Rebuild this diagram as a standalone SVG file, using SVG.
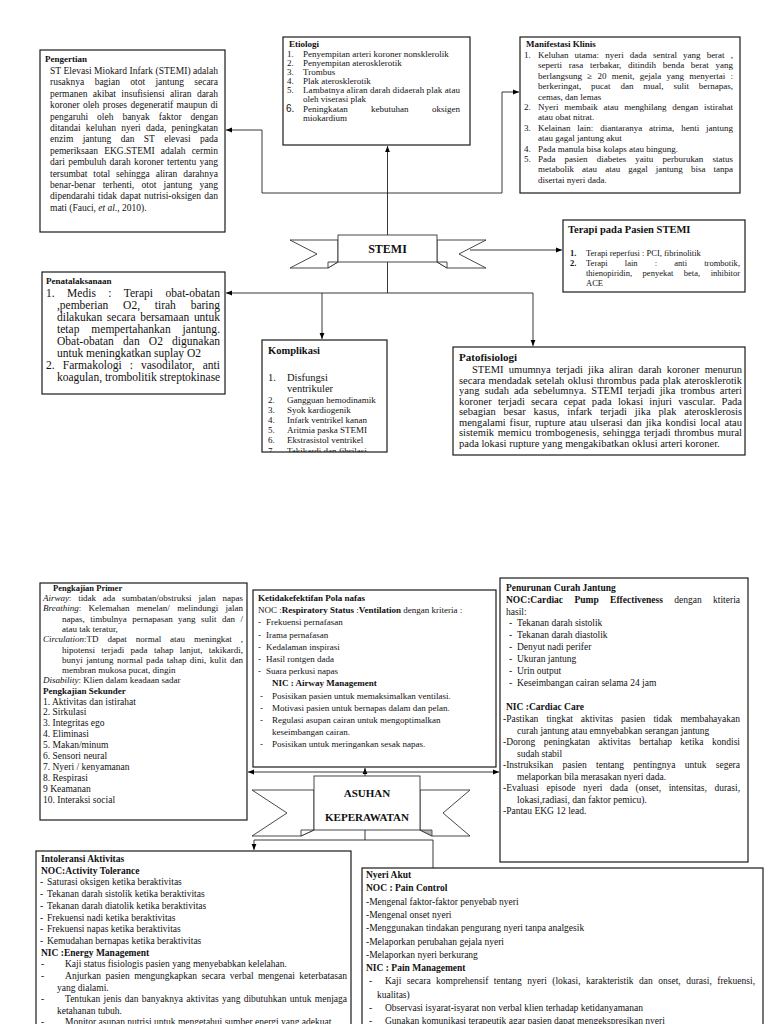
<svg xmlns="http://www.w3.org/2000/svg" width="768" height="1024" viewBox="0 0 768 1024">
<defs>
<marker id="ah" markerUnits="userSpaceOnUse" markerWidth="6" markerHeight="6" viewBox="0 0 10 10" refX="10" refY="5" orient="auto-start-reverse"><path d="M0,1 L10,5 L0,9 z" fill="#000"/></marker>
<clipPath id="clipKomp"><rect x="262" y="340" width="125" height="112"/></clipPath>
</defs>
<style>
.box{fill:#fff;stroke:#1a1a1a;stroke-width:1.2}
.t{font-family:"Liberation Serif","Times New Roman",serif;fill:#111}
.b{font-weight:bold}
.i{font-style:italic}
.sans{font-family:"Liberation Sans",Arial,sans-serif}
.conn{fill:none;stroke:#222;stroke-width:0.9}
.rib{fill:#fff;stroke:#333;stroke-width:0.9}
.fold{fill:#b3b3b3;stroke:#333;stroke-width:0.8}
.mid{text-anchor:middle}
</style>
<rect width="768" height="1024" fill="#fff"/>

<g id="connectors">
<path class="conn" d="M387.5,235 V146" marker-end="url(#ah)"/>
<path class="conn" d="M387.5,193 H262 V130 H226" marker-end="url(#ah)"/>
<path class="conn" d="M387.5,193 H502 V92 H519" marker-end="url(#ah)"/>
<path class="conn" d="M470,250 H562" marker-end="url(#ah)"/>
<path class="conn" d="M387.5,262 V293"/>
<path class="conn" d="M533,293 H226" marker-end="url(#ah)"/>
<path class="conn" d="M322,293 V339" marker-end="url(#ah)"/>
<path class="conn" d="M533,293 V346" marker-end="url(#ah)"/>
<path class="conn" d="M365,776 V768" marker-end="url(#ah)"/>
<path class="conn" d="M365,772 H248" marker-end="url(#ah)"/>
<path class="conn" d="M365,772 H499" marker-end="url(#ah)"/>
<path class="conn" d="M365,830 V840 H254 V850" marker-end="url(#ah)"/>
<path class="conn" d="M365,840 H433 V868"/>
</g>

<g id="pengertian">
<rect class="box" x="40" y="50" width="185" height="182"/>
<text class="t b" font-size="9" x="45" y="62">Pengertian</text>
<g class="t" font-size="9.5">
<text x="50" y="74" textLength="168" lengthAdjust="spacing">ST Elevasi Miokard Infark (STEMI) adalah</text>
<text x="50" y="85.4" word-spacing="8" textLength="168" lengthAdjust="spacing">rusaknya bagian otot jantung secara</text>
<text x="50" y="96.8" word-spacing="3" textLength="168" lengthAdjust="spacing">permanen akibat insufisiensi aliran darah</text>
<text x="50" y="108.2" word-spacing="1" textLength="168" lengthAdjust="spacing">koroner oleh proses degeneratif maupun di</text>
<text x="50" y="119.6" word-spacing="6.6" textLength="168" lengthAdjust="spacing">pengaruhi oleh banyak faktor dengan</text>
<text x="50" y="131" word-spacing="2.9" textLength="168" lengthAdjust="spacing">ditandai keluhan nyeri dada, peningkatan</text>
<text x="50" y="142.4" word-spacing="7" textLength="168" lengthAdjust="spacing">enzim jantung dan ST elevasi pada</text>
<text x="50" y="153.8" word-spacing="3.8" textLength="168" lengthAdjust="spacing">pemeriksaan EKG.STEMI adalah cermin</text>
<text x="50" y="165.2" word-spacing="1" textLength="168" lengthAdjust="spacing">dari pembuluh darah koroner tertentu yang</text>
<text x="50" y="176.6" word-spacing="3.5" textLength="168" lengthAdjust="spacing">tersumbat total sehingga aliran darahnya</text>
<text x="50" y="188" word-spacing="4.9" textLength="168" lengthAdjust="spacing">benar-benar terhenti, otot jantung yang</text>
<text x="50" y="199.4" word-spacing="0.8" textLength="168" lengthAdjust="spacing">dipendarahi tidak dapat nutrisi-oksigen dan</text>
<text x="50" y="210.8">mati (Fauci, <tspan class="i">et al.</tspan>, 2010).</text>
</g>
</g>

<g id="etiologi">
<rect class="box" x="283" y="37" width="187" height="108"/>
<text class="t b" font-size="9" x="289" y="47">Etiologi</text>
<g class="t" font-size="9">
<text x="287" y="57">1.</text><text x="303" y="57">Penyempitan arteri koroner nonsklerolik</text>
<text x="287" y="66">2.</text><text x="303" y="66">Penyempitan aterosklerotik</text>
<text x="287" y="75">3.</text><text x="303" y="75">Trombus</text>
<text x="287" y="84">4.</text><text x="303" y="84">Plak aterosklerotik</text>
<text x="287" y="93">5.</text><text x="303" y="93" textLength="157" lengthAdjust="spacing">Lambatnya aliran darah didaerah plak atau</text>
<text x="303" y="102">oleh viserasi plak</text>
<text class="sans" font-size="10" x="286" y="112">6.</text><text x="303" y="112" word-spacing="21" textLength="157" lengthAdjust="spacing">Peningkatan kebutuhan oksigen</text>
<text x="303" y="121">miokardium</text>
</g>
</g>

<g id="manifestasi">
<rect class="box" x="520" y="37" width="220" height="156"/>
<text class="t b" font-size="9" x="526" y="47">Manifestasi Klinis</text>
<g class="t" font-size="9">
<text x="524" y="58">1.</text>
<text x="538" y="58" word-spacing="3.9" textLength="195" lengthAdjust="spacing">Keluhan utama: nyeri dada sentral yang berat ,</text>
<text x="538" y="68.4" word-spacing="4.4" textLength="195" lengthAdjust="spacing">seperti rasa terbakar, ditindih benda berat yang</text>
<text x="538" y="78.8" word-spacing="3" textLength="195" lengthAdjust="spacing">berlangsung ≥ 20 menit, gejala yang menyertai :</text>
<text x="538" y="89.2" word-spacing="7.6" textLength="195" lengthAdjust="spacing">berkeringat, pucat dan mual, sulit bernapas,</text>
<text x="538" y="99.6">cemas, dan lemas</text>
<text x="524" y="110">2.</text>
<text x="538" y="110" word-spacing="3.5" textLength="195" lengthAdjust="spacing">Nyeri membaik atau menghilang dengan istirahat</text>
<text x="538" y="120.4">atau obat nitrat.</text>
<text x="524" y="130.8">3.</text>
<text x="538" y="130.8" word-spacing="4.6" textLength="195" lengthAdjust="spacing">Kelainan lain: diantaranya atrima, henti jantung</text>
<text x="538" y="141.2">atau gagal jantung akut</text>
<text x="524" y="151.6">4.</text>
<text x="538" y="151.6">Pada manula bisa kolaps atau bingung.</text>
<text x="524" y="162">5.</text>
<text x="538" y="162" word-spacing="6.9" textLength="195" lengthAdjust="spacing">Pada pasien diabetes yaitu perburukan status</text>
<text x="538" y="172.4" word-spacing="5.8" textLength="195" lengthAdjust="spacing">metabolik atau atau gagal jantung bisa tanpa</text>
<text x="538" y="182.8">disertai nyeri dada.</text>
</g>
</g>

<g id="stemi">
<polygon class="rib" points="338,240 290,240 317,254 290,268 328,268 338,262"/>
<polygon class="rib" points="328,262 338,262 328,268"/>
<polygon class="rib" points="437,240 486,240 459,254 486,268 447,268 437,262"/>
<polygon class="rib" points="447,262 437,262 447,268"/>
<rect class="rib" x="338" y="235" width="99" height="27"/>
<text class="t b mid" font-size="12" x="387.5" y="253">STEMI</text>
</g>

<g id="terapi">
<rect class="box" x="563" y="220" width="182" height="72"/>
<text class="t b" font-size="10.5" x="568" y="233">Terapi pada Pasien STEMI</text>
<g class="t" font-size="8.5">
<text class="b" x="570" y="256">1.</text><text x="586" y="256">Terapi reperfusi : PCI, fibrinolitik</text>
<text class="b" x="570" y="266">2.</text><text x="586" y="266" word-spacing="15" textLength="154" lengthAdjust="spacing">Terapi lain : anti trombotik,</text>
<text x="586" y="276" word-spacing="8.4" textLength="154" lengthAdjust="spacing">thienopiridin, penyekat beta, inhibitor</text>
<text x="586" y="286">ACE</text>
</g>
</g>

<g id="penatalaksanaan">
<rect class="box" x="42" y="272" width="183" height="122"/>
<text class="t b" font-size="9" x="46" y="284">Penatalaksanaan</text>
<g class="t" font-size="11.5">
<text x="46" y="297" word-spacing="9.5" textLength="174" lengthAdjust="spacing">1. Medis : Terapi obat-obatan</text>
<text x="57" y="309" word-spacing="12" textLength="163" lengthAdjust="spacing">,pemberian O2, tirah baring</text>
<text x="57" y="321" word-spacing="1.8" textLength="163" lengthAdjust="spacing">dilakukan secara bersamaan untuk</text>
<text x="57" y="333" word-spacing="9" textLength="163" lengthAdjust="spacing">tetap mempertahankan jantung.</text>
<text x="57" y="345" word-spacing="6.3" textLength="163" lengthAdjust="spacing">Obat-obatan dan O2 digunakan</text>
<text x="57" y="357">untuk meningkatkan suplay O2</text>
<text x="46" y="369" word-spacing="5.2" textLength="174" lengthAdjust="spacing">2. Farmakologi : vasodilator, anti</text>
<text x="57" y="381">koagulan, trombolitik streptokinase</text>
</g>
</g>

<g id="komplikasi">
<rect class="box" x="262" y="340" width="125" height="112"/>
<g class="t" clip-path="url(#clipKomp)">
<text class="b" font-size="10.5" x="268" y="354">Komplikasi</text>
<text font-size="10.5" x="268" y="381">1.</text><text font-size="10.5" x="287" y="381">Disfungsi</text>
<text font-size="10.5" x="287" y="392">ventrikuler</text>
<g font-size="9">
<text x="268" y="403">2.</text><text x="287" y="403">Gangguan hemodinamik</text>
<text x="268" y="413">3.</text><text x="287" y="413">Syok kardiogenik</text>
<text x="268" y="423">4.</text><text x="287" y="423">Infark ventrikel kanan</text>
<text x="268" y="433">5.</text><text x="287" y="433">Aritmia paska STEMI</text>
<text x="268" y="443">6.</text><text x="287" y="443">Ekstrasistol ventrikel</text>
<text x="268" y="453.5">7</text><text x="287" y="453.5">Takikardi dan fibrilasi</text>
</g>
</g>
</g>

<g id="patofisiologi">
<rect class="box" x="453" y="347" width="292" height="108"/>
<text class="t b" font-size="11" x="459" y="361">Patofisiologi</text>
<g class="t" font-size="10.5">
<text x="472" y="373" word-spacing="2.6" textLength="270" lengthAdjust="spacing">STEMI umumnya terjadi jika aliran darah koroner menurun</text>
<text x="459" y="383.5" word-spacing="0.7" textLength="283" lengthAdjust="spacing">secara mendadak setelah oklusi thrombus pada plak aterosklerotik</text>
<text x="459" y="394" word-spacing="2.4" textLength="283" lengthAdjust="spacing">yang sudah ada sebelumnya. STEMI terjadi jika trombus arteri</text>
<text x="459" y="404.5" word-spacing="3.5" textLength="283" lengthAdjust="spacing">koroner terjadi secara cepat pada lokasi injuri vascular. Pada</text>
<text x="459" y="415" word-spacing="5.2" textLength="283" lengthAdjust="spacing">sebagian besar kasus, infark terjadi jika plak aterosklerosis</text>
<text x="459" y="425.5" word-spacing="1.2" textLength="283" lengthAdjust="spacing">mengalami fisur, rupture atau ulserasi dan jika kondisi local atau</text>
<text x="459" y="436" word-spacing="1" textLength="283" lengthAdjust="spacing">sistemik memicu trombogenesis, sehingga terjadi thrombus mural</text>
<text x="459" y="446.5">pada lokasi rupture yang mengakibatkan oklusi arteri koroner.</text>
</g>
</g>

<g id="pengkajian">
<rect class="box" x="40" y="583" width="207" height="237"/>
<g class="t" font-size="9">
<text class="b" font-size="8.5" x="53" y="591">Pengkajian Primer</text>
<text x="43" y="601" word-spacing="4.6" textLength="200" lengthAdjust="spacing"><tspan class="i">Airway</tspan>: tidak ada sumbatan/obstruksi jalan napas</text>
<text x="43" y="611.3" word-spacing="5.1" textLength="200" lengthAdjust="spacing"><tspan class="i">Breathing</tspan>: Kelemahan menelan/ melindungi jalan</text>
<text x="62" y="621.6" word-spacing="3.2" textLength="181" lengthAdjust="spacing">napas, timbulnya pernapasan yang sulit dan /</text>
<text x="62" y="631.9">atau tak teratur,</text>
<text x="43" y="642.2" word-spacing="6.7" textLength="200" lengthAdjust="spacing"><tspan class="i">Circulation</tspan>:TD dapat normal atau meningkat ,</text>
<text x="62" y="652.5" word-spacing="4" textLength="181" lengthAdjust="spacing">hipotensi terjadi pada tahap lanjut, takikardi,</text>
<text x="62" y="662.8" word-spacing="1" textLength="181" lengthAdjust="spacing">bunyi jantung normal pada tahap dini, kulit dan</text>
<text x="62" y="673.1">membran mukosa pucat, dingin</text>
<text x="43" y="683.4"><tspan class="i">Disability</tspan>: Klien dalam keadaan  sadar</text>
<text class="b" x="43" y="693.7">Pengkajian Sekunder</text>
</g>
<g class="t" font-size="9.5">
<text x="43" y="704.5">1. Aktivitas dan istirahat</text>
<text x="43" y="715.4">2. Sirkulasi</text>
<text x="43" y="726.3">3. Integritas ego</text>
<text x="43" y="737.2">4. Eliminasi</text>
<text x="43" y="748.1">5. Makan/minum</text>
<text x="43" y="759">6. Sensori neural</text>
<text x="43" y="769.9">7. Nyeri / kenyamanan</text>
<text x="43" y="780.8">8. Respirasi</text>
<text x="43" y="791.7">9 Keamanan</text>
<text x="43" y="802.6">10. Interaksi social</text>
</g>
</g>

<g id="ketidakefektifan">
<rect class="box" x="253" y="590" width="243" height="177"/>
<g class="t" font-size="9">
<text class="b" x="258" y="601">Ketidakefektifan Pola nafas</text>
<text x="258" y="613.2">NOC :<tspan class="b">Respiratory Status</tspan> :<tspan class="b">Ventilation</tspan> dengan kriteria :</text>
<text x="258" y="625.4">-</text><text x="266" y="625.4">Frekuensi pernafasan</text>
<text x="258" y="637.6">-</text><text x="266" y="637.6">Irama pernafasan</text>
<text x="258" y="649.8">-</text><text x="266" y="649.8">Kedalaman inspirasi</text>
<text x="258" y="662">-</text><text x="266" y="662">Hasil rontgen dada</text>
<text x="258" y="674.2">-</text><text x="266" y="674.2">Suara perkusi napas</text>
<text class="b" x="272" y="686.4">NIC : Airway Management</text>
<text x="260" y="698.6">-</text><text x="272" y="698.6">Posisikan pasien untuk memaksimalkan ventilasi.</text>
<text x="260" y="710.8">-</text><text x="272" y="710.8">Motivasi pasien untuk bernapas dalam  dan pelan.</text>
<text x="260" y="723">-</text><text x="272" y="723">Regulasi asupan cairan untuk mengoptimalkan</text>
<text x="272" y="735.2">keseimbangan cairan.</text>
<text x="260" y="747.4">-</text><text x="272" y="747.4">Posisikan untuk meringankan sesak napas.</text>
</g>
</g>

<g id="penurunan">
<rect class="box" x="500" y="578" width="248" height="284"/>
<g class="t" font-size="9.5">
<text class="b" x="506" y="591">Penurunan Curah Jantung</text>
<text x="506" y="603" word-spacing="9" textLength="234" lengthAdjust="spacing"><tspan class="b">NOC:Cardiac Pump Effectiveness</tspan> dengan ktiteria</text>
<text x="506" y="614.5">hasil:</text>
<text x="509" y="626">-</text><text x="517" y="626">Tekanan darah sistolik</text>
<text x="509" y="638">-</text><text x="517" y="638">Tekanan darah diastolik</text>
<text x="509" y="650">-</text><text x="517" y="650">Denyut nadi perifer</text>
<text x="509" y="662">-</text><text x="517" y="662">Ukuran jantung</text>
<text x="509" y="674">-</text><text x="517" y="674">Urin output</text>
<text x="509" y="686">-</text><text x="517" y="686">Keseimbangan cairan selama 24 jam</text>
<text class="b" x="506" y="710">NIC :Cardiac Care</text>
<text x="503" y="722" word-spacing="5.7" textLength="237" lengthAdjust="spacing">-Pastikan tingkat aktivitas pasien tidak membahayakan</text>
<text x="517" y="733.5">curah jantung atau emnyebabkan serangan jantung</text>
<text x="503" y="745" word-spacing="6.1" textLength="237" lengthAdjust="spacing">-Dorong peningkatan aktivitas bertahap ketika kondisi</text>
<text x="517" y="756.5">sudah stabil</text>
<text x="503" y="768" word-spacing="6.9" textLength="237" lengthAdjust="spacing">-Instruksikan pasien tentang pentingnya untuk segera</text>
<text x="517" y="779.5">melaporkan bila merasakan nyeri dada.</text>
<text x="503" y="791" word-spacing="5.2" textLength="237" lengthAdjust="spacing">-Evaluasi episode nyeri dada (onset, intensitas, durasi,</text>
<text x="517" y="802.5">lokasi,radiasi, dan faktor pemicu).</text>
<text x="503" y="814">-Pantau EKG 12 lead.</text>
</g>
</g>

<g id="asuhan">
<polygon class="rib" points="314,790 252,790 287,813 252,836 301,836 314,830"/>
<polygon class="rib" points="314,830 301,830 301,836"/>
<polygon class="rib" points="420,790 470,790 443,813 470,836 432,836 420,830"/>
<polygon class="fold" points="420,830 432,830 432,836"/>
<rect class="rib" x="314" y="776" width="106" height="54"/>
<text class="t b mid" font-size="11" x="367" y="797">ASUHAN</text>
<text class="t b mid" font-size="11" x="367" y="821">KEPERAWATAN</text>
</g>

<g id="intoleransi">
<rect class="box" x="36" y="851" width="315" height="185"/>
<g class="t" font-size="9.5">
<text class="b" x="41" y="862">Intoleransi Aktivitas</text>
<text class="b" x="41" y="873.7">NOC:Activity Tolerance</text>
<text x="40" y="885.4">-</text><text x="47" y="885.4">Saturasi oksigen ketika beraktivitas</text>
<text x="40" y="897.1">-</text><text x="47" y="897.1">Tekanan darah sistolik ketika beraktivitas</text>
<text x="40" y="908.8">-</text><text x="47" y="908.8">Tekanan darah diatolik ketika beraktivitas</text>
<text x="40" y="920.5">-</text><text x="47" y="920.5">Frekuensi nadi ketika beraktivitas</text>
<text x="40" y="932.2">-</text><text x="47" y="932.2">Frekuensi napas ketika beraktivitas</text>
<text x="40" y="943.9">-</text><text x="47" y="943.9">Kemudahan bernapas ketika beraktivitas</text>
<text class="b" x="41" y="955.6">NIC :Energy Management</text>
<text x="41" y="967.3">-</text><text x="65" y="967.3">Kaji status fisiologis pasien yang menyebabkan kelelahan.</text>
<text x="41" y="979">-</text><text x="65" y="979" word-spacing="2" textLength="282" lengthAdjust="spacing">Anjurkan pasien mengungkapkan secara verbal mengenai keterbatasan</text>
<text x="57" y="990.7">yang dialami.</text>
<text x="41" y="1002.4">-</text><text x="65" y="1002.4" word-spacing="0.9" textLength="282" lengthAdjust="spacing">Tentukan jenis dan banyaknya aktivitas yang dibutuhkan untuk menjaga</text>
<text x="57" y="1014.1">ketahanan tubuh.</text>
<text x="41" y="1025">-</text><text x="65" y="1025">Monitor asupan nutrisi untuk mengetahui sumber energi yang adekuat</text>
</g>
</g>

<g id="nyeri">
<rect class="box" x="362" y="868" width="401" height="170"/>
<g class="t" font-size="9.5">
<text class="b" x="366" y="878">Nyeri Akut</text>
<text class="b" x="366" y="891.3">NOC : Pain Control</text>
<text x="366" y="904.6">-Mengenal faktor-faktor penyebab nyeri</text>
<text x="366" y="917.9">-Mengenal onset nyeri</text>
<text x="366" y="931.2">-Menggunakan tindakan pengurang nyeri tanpa analgesik</text>
<text x="366" y="944.5">-Melaporkan perubahan gejala nyeri</text>
<text x="366" y="957.8">-Melaporkan nyeri berkurang</text>
<text class="b" x="366" y="971.1">NIC : Pain Management</text>
<text x="369" y="984.4">-</text><text x="385" y="984.4" word-spacing="3.1" textLength="370" lengthAdjust="spacing">Kaji secara komprehensif tentang nyeri (lokasi, karakteristik dan onset, durasi, frekuensi,</text>
<text x="377" y="997.7">kualitas)</text>
<text x="369" y="1011">-</text><text x="385" y="1011">Observasi isyarat-isyarat non verbal klien terhadap ketidanyamanan</text>
<text x="369" y="1024">-</text><text x="385" y="1024">Gunakan komunikasi terapeutik agar pasien dapat mengekspresikan nyeri</text>
</g>
</g>
</svg>
